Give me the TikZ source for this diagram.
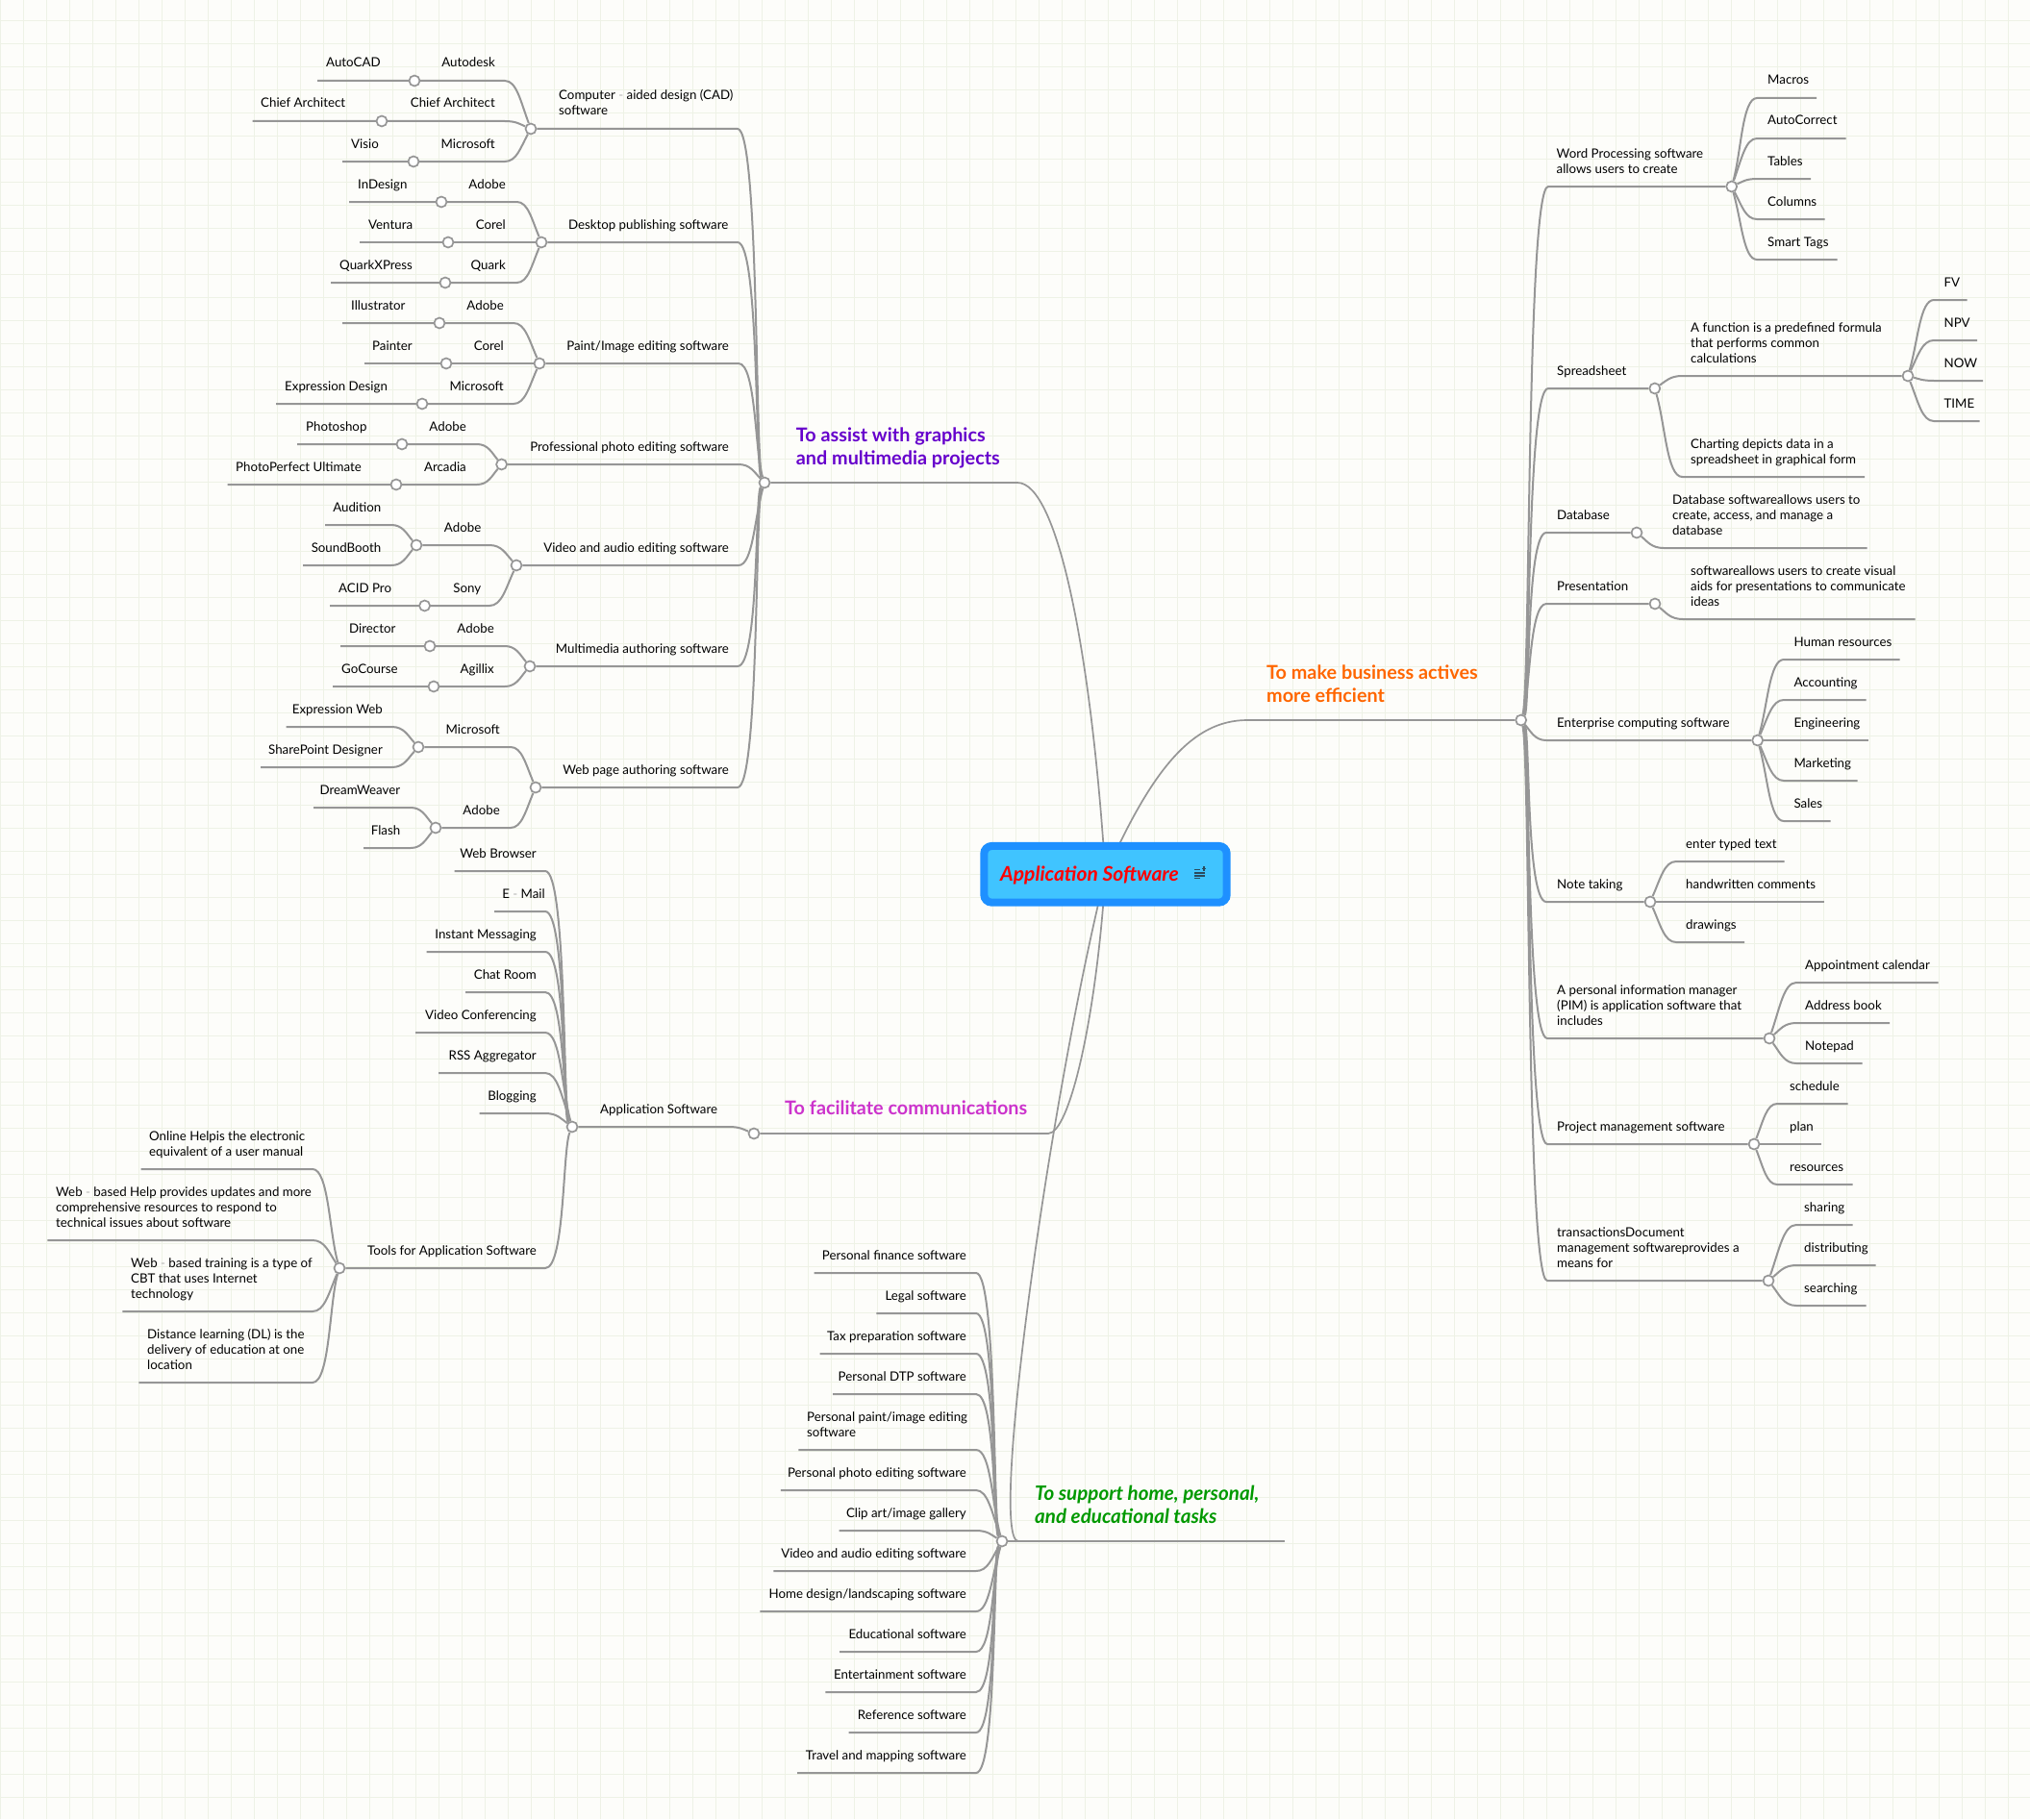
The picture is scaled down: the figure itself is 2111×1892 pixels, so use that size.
\documentclass[tikz,border=0pt]{standalone}
\usepackage{fontspec}
\setmainfont{Lato}
\usetikzlibrary{calc}
\definecolor{bgc}{HTML}{FDFDFA}
\definecolor{gridc}{HTML}{EEF2E6}
\definecolor{linkc}{HTML}{969696}
\definecolor{rootfill}{HTML}{40C4FF}
\definecolor{rootedge}{HTML}{1E90FF}
\definecolor{iconc}{HTML}{2B4A5E}
\definecolor{cgraph}{HTML}{6600CC}
\definecolor{cbiz}{HTML}{FF6600}
\definecolor{cfac}{HTML}{CC33CC}
\definecolor{csup}{HTML}{009900}
\pgfdeclarelayer{links}
\pgfsetlayers{links,main}
\tikzset{
  link/.style={draw=linkc,line width=2pt},
  toplink/.style={draw=linkc,line width=1.7pt},
  hubdot/.style={circle,draw=linkc,fill=white,line width=1.7pt,minimum size=11pt,inner sep=0pt},
  lbl/.style={inner sep=0pt,text=black,font=\fontsize{13.3}{16}\selectfont},
  ttl/.style={inner sep=0pt,font=\fontsize{19.8}{24}\selectfont\bfseries},
  bus/.style={to path={let \p1=(\tikztostart),\p2=(\tikztotarget),
      \n1={min(1,max(0,(scalar(abs(\y2-\y1))/max(scalar(abs(\x2-\x1)),1)-2)/4))} in
    .. controls ({\x1+(.45+.35*\n1)*(\x2-\x1)},\y1) and ({\x1+(.6+.05*\n1)*(\x2-\x1)},{\y1+(.42+.52*\n1)*(\y2-\y1)}) .. (\tikztotarget) \tikztonodes}},
}
% plain branch: id, free x, bend x, y, parent
\newcommand\mmBr[5]{\coordinate (#1) at (#2,#4); \coordinate (#1-b) at (#3,#4);
  \begin{pgfonlayer}{links}\draw[link] (#1) -- (#1-b) to[bus] (#5);\end{pgfonlayer}}
% branch whose free end is a hub
\newcommand\mmBrH[5]{\node[hubdot] (#1) at (#2,#4) {}; \coordinate (#1-b) at (#3,#4);
  \begin{pgfonlayer}{links}\draw[link] (#1) -- (#1-b) to[bus] (#5);\end{pgfonlayer}}
% branch with a dot on the line: id, free x, dot x, bend x, y, parent
\newcommand\mmBrC[6]{\coordinate (#1) at (#2,#5); \coordinate (#1-b) at (#4,#5); \node[hubdot] (#1-d) at (#3,#5) {};
  \begin{pgfonlayer}{links}\draw[link] (#1) -- (#1-b) to[bus] (#6);\end{pgfonlayer}}
\newcommand\mmTL[4]{\node[lbl,anchor=base west] (#1) at (#2,{#3-14}) {#4};}
\newcommand\mmTR[4]{\node[lbl,anchor=base east] (#1) at (#2,{#3-14}) {#4};}
\newcommand\mmML[1]{\begin{tabular}[b]{@{}l@{}}#1\end{tabular}}
\newcommand\mmDash{\textcolor{gray!60}{-}}
\begin{document}
\begin{tikzpicture}[x=1pt,y=-1pt]
\useasboundingbox (0,0) rectangle (2111,1892);
\begin{pgfonlayer}{links}
\fill[bgc] (0,0) rectangle (2111,1892);
\foreach \gx in {0,24,...,2111} \draw[gridc,line width=1pt] (\gx,0) -- (\gx,1892);
\foreach \gy in {21.5,45.5,...,1892} \draw[gridc,line width=1pt] (0,\gy) -- (2111,\gy);
\end{pgfonlayer}
% root
\node[draw=rootedge,fill=rootfill,line width=8pt,rounded corners=8pt,minimum width=252.4pt,minimum height=58.7pt,inner sep=0pt] (root) at (1149.5,909.3) {};
\node[anchor=base west,inner sep=0pt,text=red,font=\fontsize{21}{24}\selectfont\bfseries\itshape] (root-t) at (1040,916) {Application Software};
\foreach \iy/\ix in {904.3/1248.3,907.7/1253.3,910.7/1253.3,913.5/1248.3} \fill[iconc] (1241.5,\iy-.8) rectangle (\ix,\iy+.8);
\fill[iconc] (1249.6,902.5) rectangle (1254.2,904.1);
\fill[iconc] (1251.1,900.9) rectangle (1252.7,905.7);

% ===== graphics =====
\node[hubdot] (gr) at (795,502) {};
\coordinate (gr-b) at (1058,502);
\begin{pgfonlayer}{links}\draw[toplink] (gr) -- (gr-b) .. controls (1100,502) and (1135,680) .. (root.center);\end{pgfonlayer}
\node[ttl,text=cgraph,anchor=base west] (gr-t) at (827.7,483) {\begin{tabular}[b]{@{}l@{}}To assist with graphics\\and multimedia projects\end{tabular}};

\mmBrH{cad}{552}{767}{134}{gr}
\mmTL{cad-t}{581}{134}{\mmML{Computer \mmDash{} aided design (CAD)\\software}}
\mmBrC{a1}{330}{431}{525}{84}{cad}\mmTL{a1-l}{339}{84}{AutoCAD}\mmTR{a1-r}{515}{84}{Autodesk}
\mmBrC{a2}{262.5}{397}{525}{126}{cad}\mmTL{a2-l}{271}{126}{Chief Architect}\mmTR{a2-r}{515}{126}{Chief Architect}
\mmBrC{a3}{356}{430}{525}{168}{cad}\mmTL{a3-l}{365}{168}{Visio}\mmTR{a3-r}{515}{168}{Microsoft}

\mmBrH{dtp}{563}{767}{252}{gr}
\mmTR{dtp-t}{757.5}{252}{Desktop publishing software}
\mmBrC{b1}{363}{459}{537.5}{210}{dtp}\mmTL{b1-l}{372}{210}{InDesign}\mmTR{b1-r}{526}{210}{Adobe}
\mmBrC{b2}{374}{466}{537.5}{252}{dtp}\mmTL{b2-l}{383}{252}{Ventura}\mmTR{b2-r}{526}{252}{Corel}
\mmBrC{b3}{344}{463}{537.5}{294}{dtp}\mmTL{b3-l}{353}{294}{QuarkXPress}\mmTR{b3-r}{526}{294}{Quark}

\mmBrH{pnt}{561}{768}{378}{gr}
\mmTR{pnt-t}{758}{378}{Paint/Image editing software}
\mmBrC{c1}{356}{457}{534}{336}{pnt}\mmTL{c1-l}{365}{336}{Illustrator}\mmTR{c1-r}{524}{336}{Adobe}
\mmBrC{c2}{378.5}{464}{534}{378}{pnt}\mmTL{c2-l}{387}{378}{Painter}\mmTR{c2-r}{524}{378}{Corel}
\mmBrC{c3}{287}{439}{534}{420}{pnt}\mmTL{c3-l}{296}{420}{Expression Design}\mmTR{c3-r}{524}{420}{Microsoft}

\mmBrH{pho}{521.6}{768}{483}{gr}
\mmTR{pho-t}{758}{483}{Professional photo editing software}
\mmBrC{d1}{309}{418}{496}{462}{pho}\mmTL{d1-l}{318}{462}{Photoshop}\mmTR{d1-r}{485}{462}{Adobe}
\mmBrC{d2}{236.5}{412}{496}{504}{pho}\mmTL{d2-l}{245}{504}{PhotoPerfect Ultimate}\mmTR{d2-r}{485}{504}{Arcadia}

\mmBrH{vid}{537}{768}{588}{gr}
\mmTR{vid-t}{758}{588}{Video and audio editing software}
\mmBrH{e0}{433}{509}{567}{vid}\mmTR{e0-r}{500.5}{567}{Adobe}
\mmBr{e1}{338}{407}{546}{e0}\mmTR{e1-r}{396.5}{546}{Audition}
\mmBr{e2}{315}{407}{588}{e0}\mmTR{e2-r}{396.5}{588}{SoundBooth}
\mmBrC{e3}{343}{441.6}{509}{630}{vid}\mmTL{e3-l}{352}{630}{ACID Pro}\mmTR{e3-r}{500.5}{630}{Sony}

\mmBrH{mma}{551}{767}{693}{gr}
\mmTR{mma-t}{758}{693}{Multimedia authoring software}
\mmBrC{f1}{354}{447}{525}{672}{mma}\mmTL{f1-l}{363}{672}{Director}\mmTR{f1-r}{514}{672}{Adobe}
\mmBrC{f2}{346}{451}{525}{714}{mma}\mmTL{f2-l}{355}{714}{GoCourse}\mmTR{f2-r}{514}{714}{Agillix}

\mmBrH{web}{557}{767}{819}{gr}
\mmTR{web-t}{758}{819}{Web page authoring software}
\mmBrH{g0}{435}{531}{777}{web}\mmTR{g0-r}{520}{777}{Microsoft}
\mmBr{g1}{297.5}{407.5}{756}{g0}\mmTR{g1-r}{398}{756}{Expression Web}
\mmBr{g2}{271}{407.5}{798}{g0}\mmTR{g2-r}{398}{798}{SharePoint Designer}
\mmBrH{g3}{453}{531}{861}{web}\mmTR{g3-r}{520}{861}{Adobe}
\mmBr{g4}{326}{427}{840}{g3}\mmTR{g4-r}{416.4}{840}{DreamWeaver}
\mmBr{g5}{378}{427}{882}{g3}\mmTR{g5-r}{416.4}{882}{Flash}

% ===== communications =====
\node[hubdot] (fac) at (784,1179) {};
\coordinate (fac-b) at (1090,1179);
\begin{pgfonlayer}{links}\draw[toplink] (fac) -- (fac-b) .. controls (1112,1179) and (1140,1060) .. (root.center);\end{pgfonlayer}
\node[ttl,text=cfac,anchor=base west] (fac-t) at (816,1159) {To facilitate communications};
\mmBrH{app}{595}{758}{1172}{fac}
\mmTL{app-t}{624}{1172}{Application Software}
\mmBr{h1}{472.5}{567}{906}{app}\mmTR{h1-r}{558}{906}{Web Browser}
\mmBr{h2}{514}{567}{948}{app}\mmTR{h2-r}{567}{948}{E \mmDash{} Mail}
\mmBr{h3}{443.6}{567}{990}{app}\mmTR{h3-r}{558}{990}{Instant Messaging}
\mmBr{h4}{484}{567}{1032}{app}\mmTR{h4-r}{558}{1032}{Chat Room}
\mmBr{h5}{432}{567}{1074}{app}\mmTR{h5-r}{558}{1074}{Video Conferencing}
\mmBr{h6}{456}{567}{1116}{app}\mmTR{h6-r}{558}{1116}{RSS Aggregator}
\mmBr{h7}{498.7}{567}{1158}{app}\mmTR{h7-r}{558}{1158}{Blogging}
\mmBrH{tool}{353}{567}{1319}{app}
\mmTR{tool-t}{558}{1319}{Tools for Application Software}
\mmBr{i1}{146.7}{325}{1216}{tool}\mmTL{i1-t}{155}{1216}{\mmML{Online Helpis the electronic\\equivalent of a user manual}}
\mmBr{i2}{49.3}{325}{1290}{tool}\mmTL{i2-t}{58}{1290}{\mmML{Web \mmDash{} based Help provides updates and more\\comprehensive resources to respond to\\technical issues about software}}
\mmBr{i3}{127.3}{325}{1364}{tool}\mmTL{i3-t}{136}{1364}{\mmML{Web \mmDash{} based training is a type of\\CBT that uses Internet\\technology}}
\mmBr{i4}{144.3}{325}{1438}{tool}\mmTL{i4-t}{153}{1438}{\mmML{Distance learning (DL) is the\\delivery of education at one\\location}}

% ===== home =====
\node[hubdot] (sup) at (1042,1603) {};
\coordinate (sup-b) at (1059,1603);
\coordinate (sup-e) at (1336,1603);
\begin{pgfonlayer}{links}
\draw[toplink] (sup) -- (sup-e);
\draw[toplink] (sup-b) .. controls (1028,1603) and (1090,1150) .. (root.center);
\end{pgfonlayer}
\node[ttl,text=csup,anchor=base west,font=\fontsize{20.6}{24}\selectfont\bfseries\itshape] (sup-t) at (1076,1584.5) {\begin{tabular}[b]{@{}l@{}}To support home, personal,\\and educational tasks\end{tabular}};
\mmBr{j1}{846.6}{1015}{1324}{sup}\mmTR{j1-r}{1005}{1324}{Personal finance software}
\mmBr{j2}{911.3}{1015}{1366}{sup}\mmTR{j2-r}{1005}{1366}{Legal software}
\mmBr{j3}{852.5}{1015}{1408}{sup}\mmTR{j3-r}{1005}{1408}{Tax preparation software}
\mmBr{j4}{866}{1015}{1450}{sup}\mmTR{j4-r}{1005}{1450}{Personal DTP software}
\mmBr{j5}{830.3}{1015}{1508}{sup}\mmTL{j5-r}{839}{1508}{\mmML{Personal paint/image editing\\software}}
\mmBr{j6}{811.8}{1015}{1550}{sup}\mmTR{j6-r}{1005}{1550}{Personal photo editing software}
\mmBr{j7}{872.5}{1015}{1592}{sup}\mmTR{j7-r}{1005}{1592}{Clip art/image gallery}
\mmBr{j8}{804.4}{1015}{1634}{sup}\mmTR{j8-r}{1005}{1634}{Video and audio editing software}
\mmBr{j9}{790.4}{1015}{1676}{sup}\mmTR{j9-r}{1005}{1676}{Home design/landscaping software}
\mmBr{j10}{873.2}{1015}{1718}{sup}\mmTR{j10-r}{1005}{1718}{Educational software}
\mmBr{j11}{858.4}{1015}{1760}{sup}\mmTR{j11-r}{1005}{1760}{Entertainment software}
\mmBr{j12}{882.5}{1015}{1802}{sup}\mmTR{j12-r}{1005}{1802}{Reference software}
\mmBr{j13}{829.2}{1015}{1844}{sup}\mmTR{j13-r}{1005}{1844}{Travel and mapping software}

% ===== business =====
\node[hubdot] (biz) at (1581.7,749) {};
\coordinate (biz-b) at (1297,749);
\begin{pgfonlayer}{links}\draw[toplink] (biz) -- (biz-b) .. controls (1240,749) and (1198,800) .. (root.center);\end{pgfonlayer}
\node[ttl,text=cbiz,anchor=base west] (biz-t) at (1317,730) {\begin{tabular}[b]{@{}l@{}}To make business actives\\more efficient\end{tabular}};

\mmBrH{wp}{1800.7}{1610}{194}{biz}
\mmTL{wp-t}{1618.5}{194}{\mmML{Word Processing software\\allows users to create}}
\mmBr{k1}{1889}{1827}{102}{wp}\mmTL{k1-t}{1838}{102}{Macros}
\mmBr{k2}{1919.5}{1827}{144}{wp}\mmTL{k2-t}{1838}{144}{AutoCorrect}
\mmBr{k3}{1883}{1827}{186}{wp}\mmTL{k3-t}{1838}{186}{Tables}
\mmBr{k4}{1897.5}{1827}{228}{wp}\mmTL{k4-t}{1838}{228}{Columns}
\mmBr{k5}{1910.5}{1827}{270}{wp}\mmTL{k5-t}{1838}{270}{Smart Tags}

\mmBrH{ss}{1720.8}{1610}{404}{biz}
\mmTL{ss-t}{1619}{404}{Spreadsheet}
\mmBrH{fn}{1984}{1749.4}{391}{ss}
\mmTL{fn-t}{1758}{391}{\mmML{A function is a predefined formula\\that performs common\\calculations}}
\mmBr{l1}{2045.5}{2011}{312}{fn}\mmTL{l1-t}{2021.4}{312}{FV}
\mmBr{l2}{2056}{2011}{354}{fn}\mmTL{l2-t}{2021.4}{354}{NPV}
\mmBr{l3}{2062}{2011}{396}{fn}\mmTL{l3-t}{2021.4}{396}{NOW}
\mmBr{l4}{2058.6}{2011}{438}{fn}\mmTL{l4-t}{2021.4}{438}{TIME}
\mmBr{cht}{1939}{1749.4}{496}{ss}
\mmTL{cht-t}{1758}{496}{\mmML{Charting depicts data in a\\spreadsheet in graphical form}}

\mmBrH{db}{1702}{1608}{554}{biz}
\mmTL{db-t}{1619}{554}{Database}
\mmBr{db1}{1941.7}{1730}{570}{db}
\mmTL{db1-t}{1739}{570}{\mmML{Database softwareallows users to\\create, access, and manage a\\database}}

\mmBrH{pr}{1721}{1608}{628}{biz}
\mmTL{pr-t}{1619}{628}{Presentation}
\mmBr{pr1}{1991.7}{1750}{644}{pr}
\mmTL{pr1-t}{1758}{644}{\mmML{softwareallows users to create visual\\aids for presentations to communicate\\ideas}}

\mmBrH{ent}{1827.7}{1608}{770}{biz}
\mmTL{ent-t}{1619}{770}{Enterprise computing software}
\mmBr{m1}{1975.7}{1855}{686}{ent}\mmTL{m1-t}{1865.3}{686}{Human resources}
\mmBr{m2}{1940.7}{1855}{728}{ent}\mmTL{m2-t}{1865.3}{728}{Accounting}
\mmBr{m3}{1942.7}{1855}{770}{ent}\mmTL{m3-t}{1865.3}{770}{Engineering}
\mmBr{m4}{1931.7}{1855}{812}{ent}\mmTL{m4-t}{1865.3}{812}{Marketing}
\mmBr{m5}{1903.7}{1855}{854}{ent}\mmTL{m5-t}{1865.3}{854}{Sales}

\mmBrH{nt}{1716}{1608}{938}{biz}
\mmTL{nt-t}{1619}{938}{Note taking}
\mmBr{n1}{1855.7}{1743}{896}{nt}\mmTL{n1-t}{1753}{896}{enter typed text}
\mmBr{n2}{1896.7}{1743}{938}{nt}\mmTL{n2-t}{1753}{938}{handwritten comments}
\mmBr{n3}{1814}{1743}{980}{nt}\mmTL{n3-t}{1753}{980}{drawings}

\mmBrH{pim}{1840}{1609}{1080}{biz}
\mmTL{pim-t}{1619}{1080}{\mmML{A personal information manager\\(PIM) is application software that\\includes}}
\mmBr{o1}{2015.7}{1868}{1022}{pim}\mmTL{o1-t}{1877}{1022}{Appointment calendar}
\mmBr{o2}{1965}{1868}{1064}{pim}\mmTL{o2-t}{1877}{1064}{Address book}
\mmBr{o3}{1936.7}{1868}{1106}{pim}\mmTL{o3-t}{1877}{1106}{Notepad}

\mmBrH{pm}{1824}{1609}{1190}{biz}
\mmTL{pm-t}{1619}{1190}{Project management software}
\mmBr{p1}{1921.7}{1848}{1148}{pm}\mmTL{p1-t}{1861}{1148}{schedule}
\mmBr{p2}{1893.7}{1848}{1190}{pm}\mmTL{p2-t}{1861}{1190}{plan}
\mmBr{p3}{1926.7}{1848}{1232}{pm}\mmTL{p3-t}{1861}{1232}{resources}

\mmBrH{doc}{1839}{1609}{1332}{biz}
\mmTL{doc-t}{1619}{1332}{\mmML{transactionsDocument\\management softwareprovides a\\means for}}
\mmBr{q1}{1926.7}{1868}{1274}{doc}\mmTL{q1-t}{1876}{1274}{sharing}
\mmBr{q2}{1950.7}{1868}{1316}{doc}\mmTL{q2-t}{1876}{1316}{distributing}
\mmBr{q3}{1940.7}{1868}{1358}{doc}\mmTL{q3-t}{1876}{1358}{searching}
\end{tikzpicture}
\end{document}
